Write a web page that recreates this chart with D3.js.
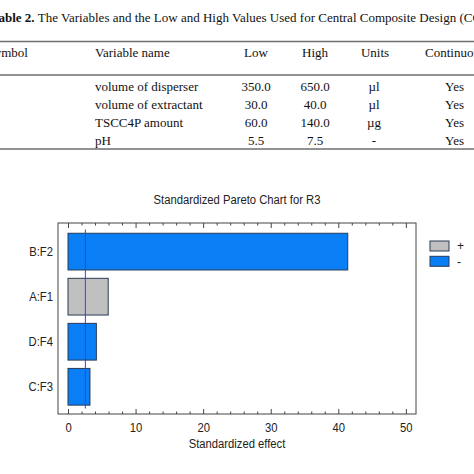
<!DOCTYPE html>
<html>
<head>
<meta charset="utf-8">
<script src="https://cdnjs.cloudflare.com/ajax/libs/d3/7.8.5/d3.min.js"></script>
<style>
  body { margin: 0; background: #fff; }
  svg { display: block; }
</style>
</head>
<body>
<div id="container"></div>
<script>
/* DATA */
const caption = "The Variables and the Low and High Values Used for Central Composite Design (CCD)";
const headers = ["Symbol", "Variable name", "Low", "High", "Units", "Continuous"];
const varNames = ["volume of disperser", "volume of extractant", "TSCC4P amount", "pH"];
const lows = ["350.0", "30.0", "60.0", "5.5"];
const highs = ["650.0", "40.0", "140.0", "7.5"];
const units = ["µl", "µl", "µg", "-"];
const continuous = ["Yes", "Yes", "Yes", "Yes"];

const factors = ["B:F2", "A:F1", "D:F4", "C:F3"];
const effects = [41.4, 5.95, 4.2, 3.25];
const signs = ["-", "+", "-", "-"];
const critical = 2.57;
const xTicks = [0, 10, 20, 30, 40, 50];
const legendKeys = ["+", "-"];

/* CONSTANTS */
const width = 474, height = 474;
const serif = "'Liberation Serif', 'Times New Roman', serif";
const sans = "'Liberation Sans', Arial, sans-serif";
const colors = {"+": "#c0c0c0", "-": "#0a7ff5"};
const squeeze = 0.9; // chart font is a narrow helvetica

const svg = d3.select("#container").append("svg")
  .attr("width", width)
  .attr("height", height);

// narrow the sans text a bit
function narrow(sel) {
  sel.each(function() {
    const w = this.getComputedTextLength();
    d3.select(this).attr("textLength", w * squeeze).attr("lengthAdjust", "spacingAndGlyphs");
  });
}

/* TABLE */
svg.append("text")
  .attr("x", -9).attr("y", 21.5)
  .attr("font-family", serif).attr("font-size", 13)
  .attr("fill", "#111")
  .call(t => {
    t.append("tspan").attr("font-weight", "bold").text("Table 2. ");
    t.append("tspan").text(caption);
  });

const ruleYs = [41.5, 75, 149];
svg.selectAll(".rule").data(ruleYs).join("line")
  .attr("class", "rule")
  .attr("x1", 0).attr("x2", width)
  .attr("y1", d => d).attr("y2", d => d)
  .attr("stroke", "#6e6e6e").attr("stroke-width", 1.5);

// column anchors: x and alignment
const cols = [
  {x: 28, anchor: "end"},
  {x: 95, anchor: "start"},
  {x: 256, anchor: "middle"},
  {x: 315, anchor: "middle"},
  {x: 375, anchor: "middle"},
  {x: 425, anchor: "start"}
];

svg.selectAll(".hdr").data(headers).join("text")
  .attr("class", "hdr")
  .attr("x", (d, i) => cols[i].x)
  .attr("y", 57)
  .attr("text-anchor", (d, i) => cols[i].anchor)
  .attr("font-family", serif).attr("font-size", 13)
  .attr("fill", "#111")
  .text(d => d);

const rows = varNames.map((v, i) => [v, lows[i], highs[i], units[i], continuous[i]]);
const rowY = d3.scalePoint().domain(d3.range(rows.length)).range([90.5, 145]);
const cellX = [95, 256, 315, 374, 464];
const cellAnchor = ["start", "middle", "middle", "middle", "end"];

const rowG = svg.selectAll(".row").data(rows).join("g")
  .attr("class", "row")
  .attr("transform", (d, i) => `translate(0,${rowY(i)})`);
rowG.selectAll("text").data(d => d).join("text")
  .attr("x", (d, i) => cellX[i])
  .attr("text-anchor", (d, i) => cellAnchor[i])
  .attr("font-family", serif).attr("font-size", 13)
  .attr("fill", "#111")
  .text(d => d);

/* PARETO CHART */
const frame = {left: 58, right: 416, top: 223, bottom: 414};

const xScale = d3.scaleLinear()
  .domain([-1.48, 51.5])
  .range([frame.left, frame.right]);

const yScale = d3.scaleBand()
  .domain(factors)
  .range([229.2, 409.2])
  .paddingInner(0.185)
  .paddingOuter(0.09);

svg.append("text")
  .attr("x", 237).attr("y", 204)
  .attr("text-anchor", "middle")
  .attr("font-family", sans).attr("font-size", 12.5)
  .attr("fill", "#222")
  .text("Standardized Pareto Chart for R3")
  .call(narrow);

svg.append("rect")
  .attr("x", frame.left).attr("y", frame.top)
  .attr("width", frame.right - frame.left)
  .attr("height", frame.bottom - frame.top)
  .attr("fill", "none").attr("stroke", "#444").attr("stroke-width", 1);

// ticks, major and minor, bottom and top
const minor = d3.range(0, 51, 2).filter(d => d % 10 !== 0);
const bottomAxis = d3.axisBottom(xScale).tickValues(xTicks).tickSize(-5).tickPadding(9).tickFormat(d3.format("d"));
const topAxis = d3.axisTop(xScale).tickValues(xTicks).tickSize(-5).tickFormat("");

const gb = svg.append("g").attr("transform", `translate(0,${frame.bottom})`).call(bottomAxis);
const gt = svg.append("g").attr("transform", `translate(0,${frame.top})`).call(topAxis);
[gb, gt].forEach(g => {
  g.select(".domain").remove();
  g.selectAll("line").attr("stroke", "#444");
});
gb.selectAll("text").attr("font-family", sans).attr("font-size", 12.5).attr("fill", "#222").call(narrow);

svg.append("g").attr("transform", `translate(0,${frame.bottom})`)
  .call(d3.axisBottom(xScale).tickValues(minor).tickSize(-2.5).tickFormat(""))
  .call(g => g.select(".domain").remove())
  .selectAll("line").attr("stroke", "#444");
svg.append("g").attr("transform", `translate(0,${frame.top})`)
  .call(d3.axisTop(xScale).tickValues(minor).tickSize(-2.5).tickFormat(""))
  .call(g => g.select(".domain").remove())
  .selectAll("line").attr("stroke", "#444");

svg.append("text")
  .attr("x", 237).attr("y", 448)
  .attr("text-anchor", "middle")
  .attr("font-family", sans).attr("font-size", 12.5)
  .attr("fill", "#222")
  .text("Standardized effect")
  .call(narrow);

// factor labels
svg.selectAll(".flabel").data(factors).join("text")
  .attr("class", "flabel")
  .attr("x", 53)
  .attr("y", d => yScale(d) + yScale.bandwidth() / 2)
  .attr("dy", "0.35em")
  .attr("text-anchor", "end")
  .attr("font-family", sans).attr("font-size", 12.5)
  .attr("fill", "#222")
  .text(d => d)
  .call(narrow);

// bars
svg.selectAll(".bar").data(factors).join("rect")
  .attr("class", "bar")
  .attr("x", xScale(0))
  .attr("y", d => yScale(d))
  .attr("width", (d, i) => xScale(effects[i]) - xScale(0))
  .attr("height", yScale.bandwidth())
  .attr("fill", (d, i) => colors[signs[i]])
  .attr("stroke", "#2a3a55").attr("stroke-width", 1);

// critical value line
svg.append("line")
  .attr("x1", xScale(critical)).attr("x2", xScale(critical))
  .attr("y1", 229.5).attr("y2", 408.5)
  .attr("stroke", "#3a3aff").attr("stroke-width", 1);

// legend
const lg = svg.selectAll(".legend").data(legendKeys).join("g")
  .attr("class", "legend")
  .attr("transform", (d, i) => `translate(430,${241 + i * 15.3})`);
lg.append("rect")
  .attr("width", 19).attr("height", 10)
  .attr("fill", d => colors[d])
  .attr("stroke", "#2a3a55").attr("stroke-width", 1);
lg.append("text")
  .attr("x", 27).attr("y", 5).attr("dy", "0.35em")
  .attr("font-family", sans).attr("font-size", 12)
  .attr("fill", "#222")
  .text(d => d);
</script>
</body>
</html>
